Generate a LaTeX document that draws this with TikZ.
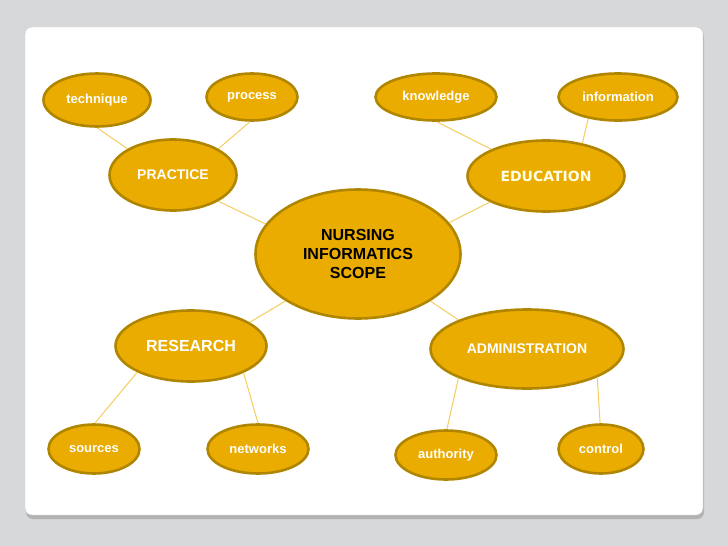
\documentclass[tikz,border=0pt]{standalone}
\usepackage{fontspec}
\setmainfont{Liberation Sans}
\newfontfamily\edufont{DejaVu Sans}
\usetikzlibrary{shapes.geometric}
\definecolor{slidegray}{RGB}{215,216,218}
\definecolor{bubblefill}{RGB}{234,172,0}
\definecolor{bubbleedge}{RGB}{176,134,0}
\definecolor{linkyellow}{RGB}{243,206,96}

\begin{document}
\begin{tikzpicture}[x=1pt, y=-1pt,
		bubble/.style={ellipse, draw=bubbleedge, fill=bubblefill, line width=2.6pt, inner sep=0pt, text=white, font=\bfseries\fontsize{13}{15}\selectfont},
		link/.style={draw=linkyellow, line width=1pt}]
		\fill[slidegray] (0, 0) rectangle (728, 546);
		\fill[black!30, rounded corners=7pt] (26, 30) rectangle (704, 519);
		\filldraw[fill=white, draw=black!20, rounded corners=7pt] (25, 27) rectangle (703, 515);

		\node[bubble, minimum width=205pt, minimum height=129pt, text=black, align=center, font=\bfseries\fontsize{16}{19}\selectfont] (scope) at (358, 254) {NURSING\\INFORMATICS\\SCOPE};
		\node[bubble, minimum width=127pt, minimum height=71pt, font=\bfseries\fontsize{14}{16}\selectfont] (practice) at (173, 175) {PRACTICE};
		\node[bubble, minimum width=157pt, minimum height=71pt, text=white!90!yellow, font=\edufont\bfseries\fontsize{14}{16}\selectfont] (education) at (546, 176) {EDUCATION};
		\node[bubble, minimum width=151pt, minimum height=71pt, font=\bfseries\fontsize{16}{18}\selectfont] (research) at (191, 346) {RESEARCH};
		\node[bubble, minimum width=193pt, minimum height=79pt, font=\bfseries\fontsize{14}{16}\selectfont] (administration) at (527, 349) {ADMINISTRATION};

		\node[bubble, minimum width=107pt, minimum height=53pt] (technique) at (97, 100) {technique};
		\node[bubble, minimum width=91pt, minimum height=47pt] (process) at (252, 97) {process};
		\node[bubble, minimum width=121pt, minimum height=47pt] (knowledge) at (436, 97) {knowledge};
		\node[bubble, minimum width=119pt, minimum height=47pt] (information) at (618, 97) {information};
		\node[bubble, minimum width=91pt, minimum height=49pt] (sources) at (94, 449) {sources};
		\node[bubble, minimum width=101pt, minimum height=49pt] (networks) at (258, 449) {networks};
		\node[bubble, minimum width=101pt, minimum height=49pt] (authority) at (446, 455) {authority};
		\node[bubble, minimum width=85pt, minimum height=49pt] (control) at (601, 449) {control};

		\draw[link] (technique.-90) -- (practice.150);
		\draw[link] (process.-95) -- (practice.30);
		\draw[link] (practice.-30) -- (scope.162);
		\draw[link] (knowledge.-88) -- (education.154);
		\draw[link] (information.-144) -- (education.42);
		\draw[link] (education.-155) -- (scope.19);
		\draw[link] (research.22) -- (scope.-147);
		\draw[link] (scope.-33) -- (administration.157);
		\draw[link] (research.-154) -- (sources.88);
		\draw[link] (research.-27) -- (networks.90);
		\draw[link] (administration.-157) -- (authority.88);
		\draw[link] (administration.-22) -- (control.92);

	\end{tikzpicture}
\end{document}
